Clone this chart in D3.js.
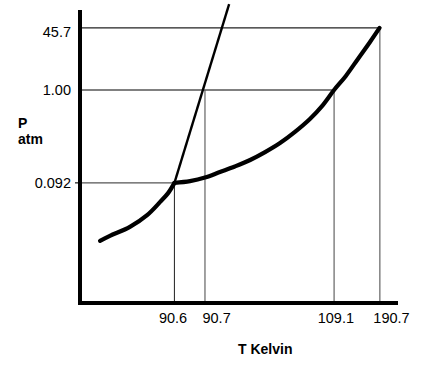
<!DOCTYPE html>
<html>
<head>
<meta charset="utf-8">
<script src="https://cdn.jsdelivr.net/npm/d3@7"></script>
<style>
  html, body { margin: 0; padding: 0; background: #fff; }
  svg { display: block; font-family: "Liberation Sans", Arial, Helvetica, sans-serif; }
</style>
</head>
<body>
<svg id="chart" width="431" height="371"></svg>
<script>
// ---- Data (schematic phase diagram, axis units 0..100) ----
const pLabels   = ["45.7", "1.00", "0.092"];
const pPos      = [93.9, 72.7, 41.0];
const tLabels   = ["90.6", "90.7", "109.1", "190.7"];
const tPos      = [29.7, 39.3, 79.9, 94.3];
const tLabelPos = [29.1, 42.8, 80.3, 97.8];
// which pressure each temperature guide rises to
const tGuideP   = ["0.092", "1.00", "1.00", "45.7"];

// sublimation curve (solid-gas)
const sublimX = [6.3, 9.4, 15.7, 21.1, 25.2, 27.7, 29.7];
const sublimY = [21.2, 22.9, 26.0, 30.0, 34.5, 37.5, 41.0];
// vaporisation curve (liquid-gas) to critical point
const vaporX  = [29.7, 34.6, 39.3, 44.0, 48.7, 53.5, 58.2, 62.9, 67.6, 72.3, 76.1, 79.9, 83.6, 87.4, 91.2, 94.2];
const vaporY  = [41.0, 41.6, 42.8, 44.7, 46.6, 48.8, 51.5, 54.6, 58.4, 62.8, 67.2, 72.7, 77.5, 83.3, 89.1, 93.9];
// melting line (solid-liquid)
const meltX   = [29.7, 46.9];
const meltY   = [41.0, 102.0];

// ---- Layout ----
const svg = d3.select("#chart");
const x = d3.scaleLinear().domain([0, 100]).range([80, 398]);
const y = d3.scaleLinear().domain([0, 100]).range([303, 10]);

const pMap = new Map(pLabels.map((l, i) => [l, pPos[i]]));

// horizontal guides: from axis to farthest temperature guide using that pressure
const gGuides = svg.append("g");
pLabels.forEach((l, i) => {
  const xs = tPos.filter((_, j) => tGuideP[j] === l);
  const xEnd = d3.max(xs);
  gGuides.append("line")
    .attr("x1", x(0)).attr("x2", x(xEnd))
    .attr("y1", y(pPos[i])).attr("y2", y(pPos[i]))
    .attr("stroke", l === "1.00" ? "#808080" : (l === "45.7" ? "#222" : "#555"))
    .attr("stroke-width", l === "1.00" ? 1.8 : 1.1);
});
// vertical guides
tPos.forEach((t, j) => {
  gGuides.append("line")
    .attr("x1", x(t)).attr("x2", x(t))
    .attr("y1", y(pMap.get(tGuideP[j]))).attr("y2", y(0))
    .attr("stroke", j === 0 ? "#333" : "#555")
    .attr("stroke-width", 1.1);
});

// curves
const line = d3.line().x(d => x(d[0])).y(d => y(d[1])).curve(d3.curveCatmullRom.alpha(0.5));
const zip = (a, b) => a.map((v, i) => [v, b[i]]);

svg.append("path").datum(zip(sublimX, sublimY)).attr("d", line)
  .attr("fill", "none").attr("stroke", "#000").attr("stroke-width", 4.2)
  .attr("stroke-linecap", "round").attr("stroke-linejoin", "round");
svg.append("path").datum(zip(vaporX, vaporY)).attr("d", line)
  .attr("fill", "none").attr("stroke", "#000").attr("stroke-width", 4.2)
  .attr("stroke-linecap", "round").attr("stroke-linejoin", "round");
svg.append("path").datum(zip(meltX, meltY)).attr("d", d3.line().x(d => x(d[0])).y(d => y(d[1])))
  .attr("fill", "none").attr("stroke", "#000").attr("stroke-width", 2.4);

// axes
const yAxis = d3.axisLeft(y).tickValues(pPos)
  .tickFormat((d, i) => pLabels[i]).tickSize(0).tickPadding(9);
const gy = svg.append("g").attr("transform", `translate(${x(0)},0)`).call(yAxis);
gy.select(".domain").remove();
gy.selectAll("text").attr("font-size", 14.5).attr("fill", "#000")
  .attr("font-family", "Liberation Sans, Arial, sans-serif")
  .attr("dy", (d, i) => i === 0 ? "0.62em" : "0.32em");

// small tick at the triple-point pressure
svg.append("line")
  .attr("x1", x(0) - 5).attr("x2", x(0))
  .attr("y1", y(pMap.get("0.092"))).attr("y2", y(pMap.get("0.092")))
  .attr("stroke", "#000").attr("stroke-width", 1.1);

const xAxis = d3.axisBottom(x).tickValues(tLabelPos)
  .tickFormat((d, i) => tLabels[i]).tickSize(0).tickPadding(10);
const gx = svg.append("g").attr("transform", `translate(0,${y(0)})`).call(xAxis);
gx.select(".domain").remove();
gx.selectAll("text").attr("font-size", 14.5).attr("fill", "#000")
  .attr("font-family", "Liberation Sans, Arial, sans-serif");

// thick axis lines
svg.append("line").attr("x1", x(0)).attr("x2", x(0))
  .attr("y1", y(100)).attr("y2", y(0) + 2)
  .attr("stroke", "#000").attr("stroke-width", 4);
svg.append("line").attr("x1", x(0) - 2).attr("x2", x(100))
  .attr("y1", y(0)).attr("y2", y(0))
  .attr("stroke", "#000").attr("stroke-width", 4);

// axis titles
svg.append("text").attr("x", 18).attr("y", 127.5)
  .attr("font-size", 14).attr("font-weight", "bold").text("P");
svg.append("text").attr("x", 18).attr("y", 143.5)
  .attr("font-size", 14).attr("font-weight", "bold").text("atm");
svg.append("text").attr("x", 238).attr("y", 354)
  .attr("font-size", 14).attr("font-weight", "bold").text("T Kelvin");
</script>
</body>
</html>
